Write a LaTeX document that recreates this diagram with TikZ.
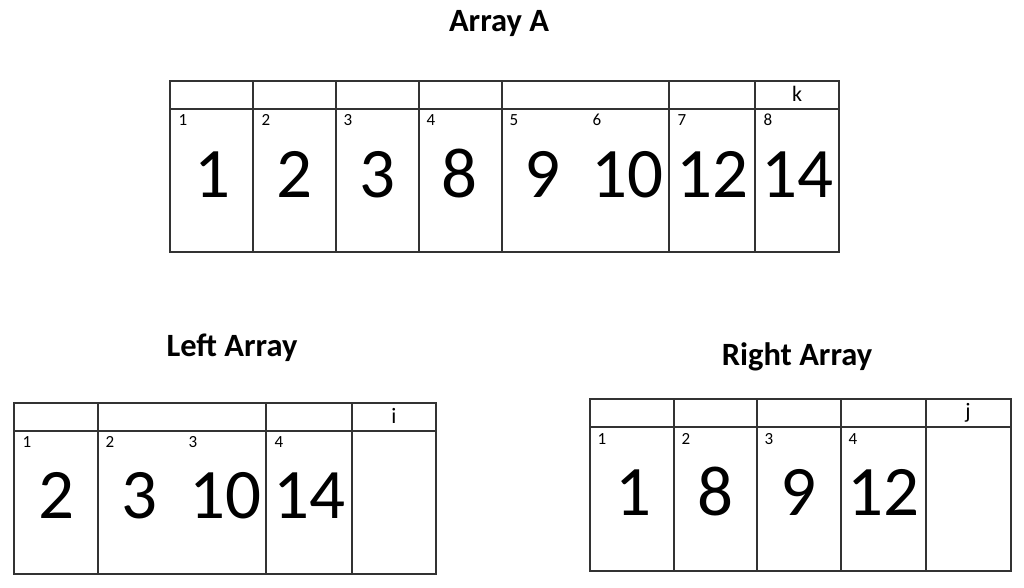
\documentclass[tikz,border=0pt]{standalone}
\usepackage{fontspec}
\setmainfont{Carlito}
\begin{document}
\begin{tikzpicture}[x=1pt,y=-1pt,
  grid/.style={draw=black!80,line width=1.2pt},
  title/.style={font=\fontsize{32.5}{32.5}\selectfont\bfseries,anchor=base,inner sep=0pt},
  big/.style={font=\fontsize{71}{71}\selectfont,anchor=base,inner sep=0pt},
  idx/.style={font=\fontsize{17}{17}\selectfont,anchor=base,inner sep=0pt},
  ptr/.style={font=\fontsize{22}{22}\selectfont,anchor=base,inner sep=0pt}]
\useasboundingbox (0,0) rectangle (1024,588);
\fill[white] (0,0) rectangle (1024,588);
% ---------- Array A ----------
\node[title] (tA) at (499,32) {Array A};
\draw[grid] (170,81) rectangle (839,252);
\draw[grid] (170,109) -- (839,109);
\foreach \x in {253,336,419,502,669,755} \draw[grid] (\x,81) -- (\x,252);
\node[ptr] (k) at (797,102) {k};
\foreach \x/\t [count=\n] in {183/1,266/2,348/3,431/4,514/5,597/6,682/7,768/8}
  \node[idx] (ai\n) at (\x,126) {\t};
\foreach \x/\t [count=\n] in {212/1,294/2,377/3,459/8,542/9,627/10,712/12,797/14}
  \node[big] (av\n) at (\x,197) {\t};
% ---------- Left Array ----------
\node[title] (tL) at (232,356) {Left Array};
\draw[grid] (14,403) rectangle (436,574);
\draw[grid] (14,431) -- (436,431);
\foreach \x in {98,266,352} \draw[grid] (\x,403) -- (\x,574);
\node[ptr] (i) at (394,423) {i};
\foreach \x/\t [count=\n] in {27/1,110/2,193/3,279/4}
  \node[idx] (li\n) at (\x,447) {\t};
\foreach \x/\t [count=\n] in {56/2,139/3,225/10,309/14}
  \node[big] (lv\n) at (\x,518) {\t};
% ---------- Right Array ----------
\node[title] (tR) at (797,365) {Right Array};
\draw[grid] (590,399) rectangle (1011,571);
\draw[grid] (590,427) -- (1011,427);
\foreach \x in {674,757,841,926} \draw[grid] (\x,399) -- (\x,571);
\node[ptr] (j) at (968,418) {j};
\foreach \x/\t [count=\n] in {602/1,686/2,769/3,853/4}
  \node[idx] (ri\n) at (\x,444) {\t};
\foreach \x/\t [count=\n] in {633/1,715/8,798/9,883/12}
  \node[big] (rv\n) at (\x,515) {\t};
\end{tikzpicture}
\end{document}
